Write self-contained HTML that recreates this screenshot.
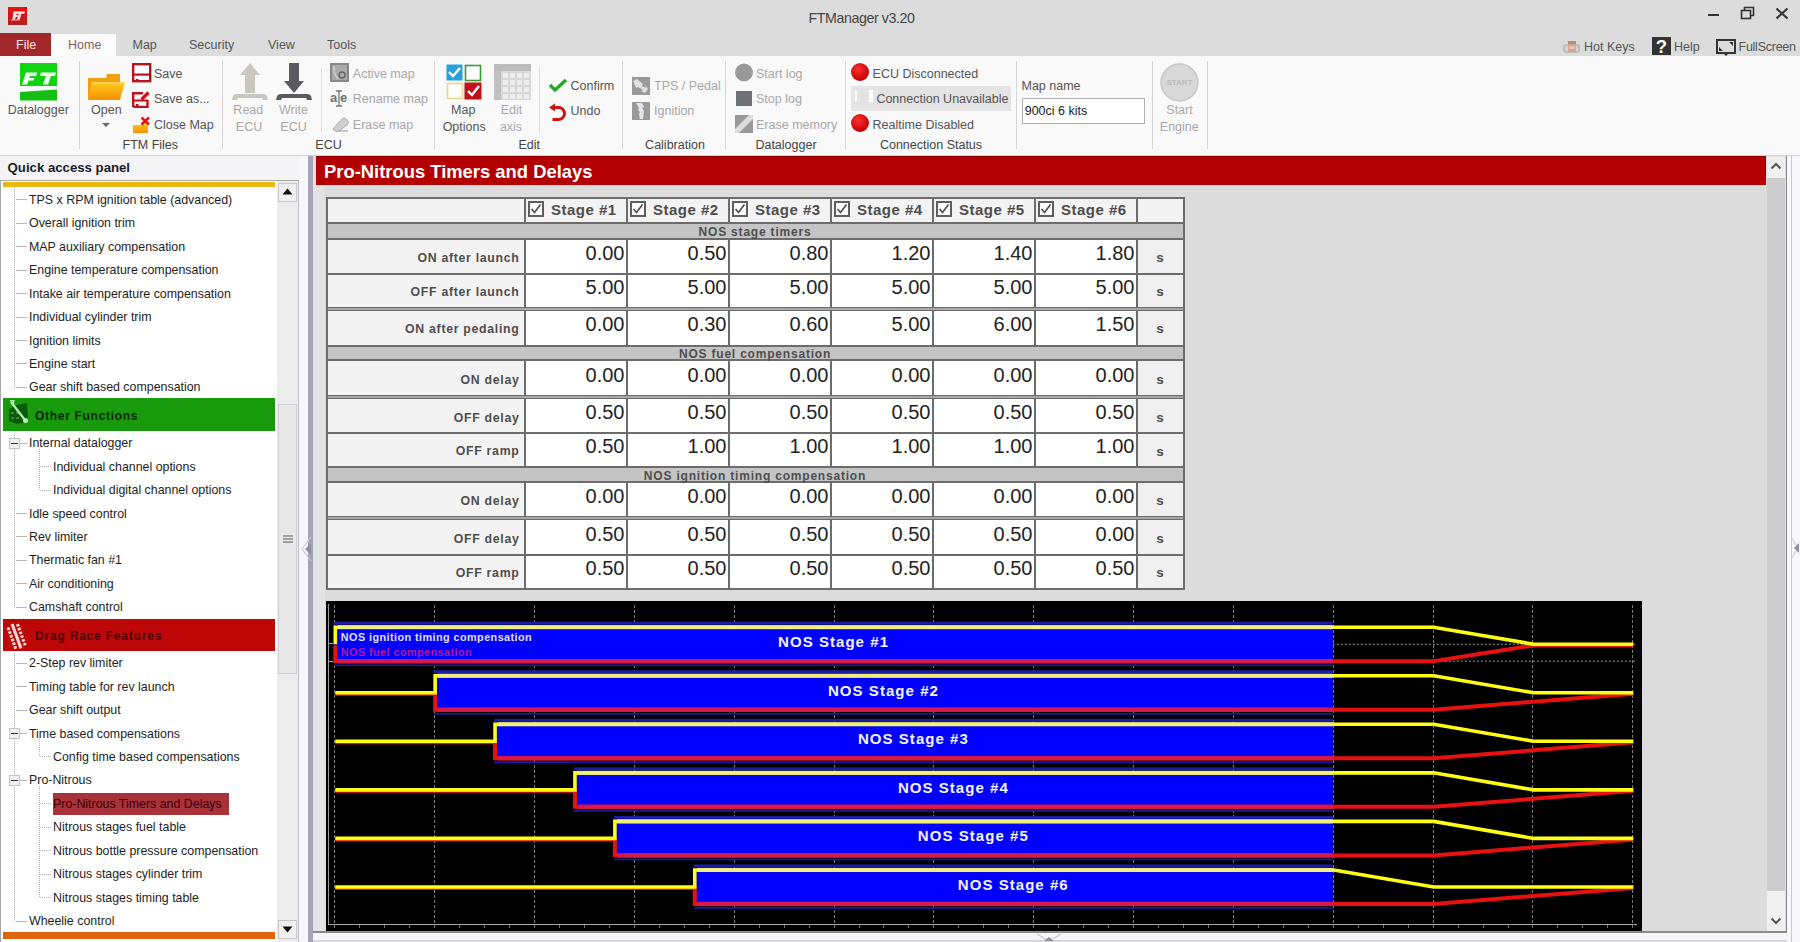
<!DOCTYPE html>
<html><head><meta charset="utf-8"><title>FTManager</title>
<style>
html,body{margin:0;padding:0;width:1800px;height:942px;overflow:hidden;background:#f8f8f8;}
body{position:relative;font-family:"Liberation Sans", sans-serif;}
.t{position:absolute;white-space:nowrap;font-family:"Liberation Sans", sans-serif;}
.r{position:absolute;}
</style></head><body>
<div class="r" style="left:0px;top:0px;width:1800px;height:33px;background:#dcdcdc;"></div>
<svg class="r" style="left:8px;top:7px" width="19" height="18"><defs><linearGradient id="ig" x1="0" y1="0" x2="0" y2="1"><stop offset="0" stop-color="#e81010"/><stop offset="1" stop-color="#b42020"/></linearGradient></defs><rect width="19" height="18" fill="url(#ig)"/><path d="M5.5 4.5 H17 L16.3 6.8 H13.3 L11.8 12.5 H9.2 L10.7 6.8 H8.6 L8.2 8.2 H10.1 L9.6 10 H7.7 L7 12.5 H4.4 Z" fill="#ffe8e8"/><path d="M3 12.6 H12 L11.6 13.6 H2.7 Z" fill="#ffd0d0" opacity=".8"/></svg>
<div class="t" style="left:861.5px;transform:translateX(-50%);top:11.18px;font-size:14.2px;line-height:14.2px;color:#444;letter-spacing:-0.4px;">FTManager v3.20</div>
<div class="r" style="left:1708px;top:14px;width:11px;height:2px;background:#333;"></div>
<svg class="r" style="left:1740px;top:6px" width="16" height="14"><rect x="1.5" y="4.5" width="9" height="8" fill="none" stroke="#333" stroke-width="1.6"/><path d="M4.5 4.5 V1.5 H13.5 V9.5 H10.5" fill="none" stroke="#333" stroke-width="1.6"/></svg>
<svg class="r" style="left:1775px;top:7px" width="14" height="13"><path d="M1.5 1.5 L12.5 11.5 M12.5 1.5 L1.5 11.5" stroke="#333" stroke-width="2.2"/></svg>
<div class="r" style="left:0px;top:33px;width:1800px;height:23px;background:#dcdcdc;"></div>
<div class="r" style="left:0px;top:33px;width:51px;height:23px;background:#a3282c;"></div>
<div class="t" style="left:16px;top:39.42px;font-size:12.5px;line-height:12.5px;color:#f4e8e8;">File</div>
<div class="r" style="left:51px;top:34px;width:65px;height:22px;background:#fbfbfb;"></div>
<div class="t" style="left:68px;top:39.42px;font-size:12.5px;line-height:12.5px;color:#8a5a6a;">Home</div>
<div class="t" style="left:132.5px;top:39.42px;font-size:12.5px;line-height:12.5px;color:#555;">Map</div>
<div class="t" style="left:189px;top:39.42px;font-size:12.5px;line-height:12.5px;color:#555;">Security</div>
<div class="t" style="left:268px;top:39.42px;font-size:12.5px;line-height:12.5px;color:#555;">View</div>
<div class="t" style="left:327px;top:39.42px;font-size:12.5px;line-height:12.5px;color:#555;">Tools</div>
<svg class="r" style="left:1562px;top:40px" width="19" height="14"><rect x="1" y="4" width="17" height="9" rx="3" fill="#bdbdbd"/><rect x="3" y="6" width="13" height="5" rx="1.5" fill="#d8d8d8"/><rect x="6" y="1" width="8" height="11" rx="1" fill="#d4a890"/><rect x="6" y="1" width="8" height="3" fill="#a89080"/><rect x="7.5" y="6" width="5" height="3" fill="#e8c4b0"/></svg>
<div class="t" style="left:1584px;top:41.42px;font-size:12.5px;line-height:12.5px;color:#555;">Hot Keys</div>
<div class="r" style="left:1652px;top:37px;width:19px;height:18px;background:#333;"></div>
<div class="t" style="left:1661.5px;transform:translateX(-50%);top:37.84px;font-size:18.5px;line-height:18.5px;color:#fff;font-weight:bold;">?</div>
<div class="t" style="left:1674px;top:41.42px;font-size:12.5px;line-height:12.5px;color:#555;">Help</div>
<svg class="r" style="left:1716px;top:39px" width="20" height="17"><rect x="1" y="1" width="18" height="13" fill="none" stroke="#333" stroke-width="2"/><path d="M17 3 L13 3 L17 7 Z M3 12 L7 12 L3 8 Z" fill="#333"/><path d="M8 15 L12 15 L10 17 Z" fill="#333"/></svg>
<div class="t" style="left:1738.5px;top:41.42px;font-size:12.5px;line-height:12.5px;color:#555;letter-spacing:-0.25px;">FullScreen</div>
<div class="r" style="left:0px;top:56px;width:1800px;height:99px;background:#f9f9f9;"></div>
<div class="r" style="left:0px;top:155px;width:1800px;height:1px;background:#d4d4d4;"></div>
<div class="r" style="left:79px;top:61px;width:1px;height:88px;background:#d6d6d6;"></div>
<div class="r" style="left:222px;top:61px;width:1px;height:88px;background:#d6d6d6;"></div>
<div class="r" style="left:434px;top:61px;width:1px;height:88px;background:#d6d6d6;"></div>
<div class="r" style="left:622px;top:61px;width:1px;height:88px;background:#d6d6d6;"></div>
<div class="r" style="left:725px;top:61px;width:1px;height:88px;background:#d6d6d6;"></div>
<div class="r" style="left:845px;top:61px;width:1px;height:88px;background:#d6d6d6;"></div>
<div class="r" style="left:1016px;top:61px;width:1px;height:88px;background:#d6d6d6;"></div>
<div class="r" style="left:1152px;top:61px;width:1px;height:88px;background:#d6d6d6;"></div>
<div class="r" style="left:1207px;top:61px;width:1px;height:88px;background:#d6d6d6;"></div>
<div class="r" style="left:321px;top:68px;width:1px;height:64px;background:#e0e0e0;"></div>
<div class="r" style="left:539px;top:68px;width:1px;height:64px;background:#e0e0e0;"></div>
<svg class="r" style="left:20px;top:63px" width="37" height="38"><rect x="0" y="0" width="37" height="23" fill="#10d410"/><path d="M0 29 L37 26.5 L37 37.5 L0 37.5 Z" fill="#12bf12"/><path d="M6 9.5 L17 9.5 L16 13 L10 13 L9.3 15 L14.5 15 L13.7 17.5 L8.5 17.5 L7 21.5 L2 21.5 Z M21 9.5 L36 9.5 L35 13 L31 13 L28 21.5 L23 21.5 L26 13 L20 13 Z" fill="#f4fff4"/></svg>
<div class="t" style="left:7.7px;top:104.42px;font-size:12.5px;line-height:12.5px;color:#555;">Datalogger</div>
<svg class="r" style="left:87px;top:73px" width="39" height="28"><defs><linearGradient id="fg" x1="0" y1="0" x2="0" y2="1"><stop offset="0" stop-color="#ffcc20"/><stop offset="1" stop-color="#f59000"/></linearGradient></defs><path d="M1 5 H19 L20 1 H33 V27 H1 Z" fill="#f0a010"/><path d="M5 9 H38 L33 27 H2 Z" fill="url(#fg)"/><path d="M5 9 H38 L37.5 10.5 H5 L2 27 Z" fill="#ffe080" opacity=".6"/></svg>
<div class="t" style="left:91px;top:104.42px;font-size:12.5px;line-height:12.5px;color:#555;">Open</div>
<svg class="r" style="left:102px;top:123px" width="8" height="5"><path d="M0 0 L8 0 L4 4 Z" fill="#666"/></svg>
<svg class="r" style="left:132px;top:63px" width="20" height="20"><rect x="1.2" y="1.2" width="17" height="17" fill="#fff" stroke="#b8141e" stroke-width="2.4"/><rect x="1" y="10.5" width="18" height="2.2" fill="#b8141e"/><rect x="4" y="16" width="2.5" height="2.5" fill="#b8141e"/></svg>
<div class="t" style="left:154px;top:67.82px;font-size:12.5px;line-height:12.5px;color:#555;">Save</div>
<svg class="r" style="left:132px;top:90px" width="20" height="18"><path d="M11 3.2 H1.2 V17 M15.5 10 V17 H1.2" fill="none" stroke="#b8141e" stroke-width="2.4"/><rect x="1" y="9.5" width="15" height="2" fill="#b8141e"/><rect x="4" y="14" width="2.5" height="2.5" fill="#b8141e"/><path d="M9.5 9.5 L16.5 2.5" stroke="#d01020" stroke-width="3.2"/></svg>
<div class="t" style="left:154px;top:93.42px;font-size:12.5px;line-height:12.5px;color:#555;">Save as...</div>
<svg class="r" style="left:132px;top:116px" width="19" height="18"><path d="M1 9 H8 L10 7.5 H16 V17 H1 Z" fill="url(#fg)"/><path d="M9.5 1.5 L17 8.5 M17 1.5 L9.5 8.5" stroke="#e01010" stroke-width="2.4"/></svg>
<div class="t" style="left:154px;top:118.82px;font-size:12.5px;line-height:12.5px;color:#555;">Close Map</div>
<div class="t" style="left:150.3px;transform:translateX(-50%);top:139.42px;font-size:12.5px;line-height:12.5px;color:#444;">FTM Files</div>
<svg class="r" style="left:231px;top:63px" width="38" height="38"><path d="M19 0 L29 12 L24 12 L24 30 L14 30 L14 12 L9 12 Z" fill="#c8c8c0"/><path d="M1 37 L2 33 Q3 31 6 31 L32 31 Q35 31 36 33 L37 37 L32 37 L31 35 L7 35 L6 37 Z" fill="#c8c8c0"/></svg>
<div class="t" style="left:248.3px;transform:translateX(-50%);top:104.42px;font-size:12.5px;line-height:12.5px;color:#a8a8a8;">Read</div>
<div class="t" style="left:249px;transform:translateX(-50%);top:120.82px;font-size:12.5px;line-height:12.5px;color:#a8a8a8;">ECU</div>
<svg class="r" style="left:275px;top:63px" width="38" height="38"><path d="M14 0 L24 0 L24 18 L29 18 L19 30 L9 18 L14 18 Z" fill="#5a5a60"/><path d="M1 37 L2 33 Q3 31 6 31 L32 31 Q35 31 36 33 L37 37 L32 37 L31 35 L7 35 L6 37 Z" fill="#5a5a60"/></svg>
<div class="t" style="left:293.4px;transform:translateX(-50%);top:104.42px;font-size:12.5px;line-height:12.5px;color:#a8a8a8;">Write</div>
<div class="t" style="left:293.5px;transform:translateX(-50%);top:120.82px;font-size:12.5px;line-height:12.5px;color:#a8a8a8;">ECU</div>
<div class="t" style="left:328.5px;transform:translateX(-50%);top:139.42px;font-size:12.5px;line-height:12.5px;color:#444;">ECU</div>
<svg class="r" style="left:330px;top:63px" width="19" height="19"><rect x="0" y="0" width="19" height="19" fill="#888"/><rect x="2" y="2" width="15" height="15" fill="#aaa"/><circle cx="12" cy="12" r="3" fill="none" stroke="#666" stroke-width="1.4"/><path d="M4 3 Q3 10 8 16" stroke="#ccc" stroke-width="1.5" fill="none"/></svg>
<div class="t" style="left:352.8px;top:67.82px;font-size:12.5px;line-height:12.5px;color:#a8a8a8;">Active map</div>
<svg class="r" style="left:330px;top:89px" width="19" height="19"><text x="0" y="13" font-family="Liberation Sans" font-weight="bold" font-size="13" fill="#707070">a</text><text x="10" y="13" font-family="Liberation Sans" font-weight="bold" font-size="13" fill="#707070">e</text><path d="M9 2 V17 M6 2 H12 M6 17 H12" stroke="#777" stroke-width="1.3"/></svg>
<div class="t" style="left:352.8px;top:93.42px;font-size:12.5px;line-height:12.5px;color:#a8a8a8;">Rename map</div>
<svg class="r" style="left:331px;top:117px" width="18" height="15"><path d="M2 12 L11 2 Q13 0 15 2 L17 4 Q18 6 16 8 L8 14 Q6 15 4 14 Z" fill="#d0d0d0" stroke="#aaa" stroke-width="1"/><path d="M8 14 H17" stroke="#aaa" stroke-width="1.2"/></svg>
<div class="t" style="left:352.8px;top:119.42px;font-size:12.5px;line-height:12.5px;color:#a8a8a8;">Erase map</div>
<svg class="r" style="left:446px;top:64px" width="37" height="37"><rect x="0.5" y="0.5" width="16" height="16" fill="#28a0d8"/><path d="M3 8 L7 12 L14 4" stroke="#fff" stroke-width="2.4" fill="none"/><rect x="19.5" y="1.5" width="15" height="15" fill="#fff" stroke="#3a9a3a" stroke-width="1.6"/><rect x="1.5" y="19.5" width="15" height="15" fill="#fff" stroke="#e8d890" stroke-width="1.6"/><rect x="18.5" y="18.5" width="17" height="17" fill="#c01018"/><path d="M22 27 L26 31 L33 22" stroke="#fff" stroke-width="2.4" fill="none"/></svg>
<div class="t" style="left:463.2px;transform:translateX(-50%);top:104.42px;font-size:12.5px;line-height:12.5px;color:#555;">Map</div>
<div class="t" style="left:464.2px;transform:translateX(-50%);top:120.82px;font-size:12.5px;line-height:12.5px;color:#555;">Options</div>
<svg class="r" style="left:494px;top:64px" width="37" height="36"><rect x="0" y="0" width="37" height="36" fill="#d8d8d8"/><rect x="0" y="0" width="37" height="7" fill="#bbb"/><rect x="0" y="7" width="7" height="29" fill="#c0c0c0"/><rect x="9" y="9" width="5" height="5" fill="#eee"/><rect x="9" y="16" width="5" height="5" fill="#eee"/><rect x="9" y="23" width="5" height="5" fill="#eee"/><rect x="9" y="30" width="5" height="5" fill="#eee"/><rect x="16" y="9" width="5" height="5" fill="#eee"/><rect x="16" y="16" width="5" height="5" fill="#eee"/><rect x="16" y="23" width="5" height="5" fill="#eee"/><rect x="16" y="30" width="5" height="5" fill="#eee"/><rect x="23" y="9" width="5" height="5" fill="#eee"/><rect x="23" y="16" width="5" height="5" fill="#eee"/><rect x="23" y="23" width="5" height="5" fill="#eee"/><rect x="23" y="30" width="5" height="5" fill="#eee"/><rect x="30" y="9" width="5" height="5" fill="#eee"/><rect x="30" y="16" width="5" height="5" fill="#eee"/><rect x="30" y="23" width="5" height="5" fill="#eee"/><rect x="30" y="30" width="5" height="5" fill="#eee"/></svg>
<div class="t" style="left:511.5px;transform:translateX(-50%);top:104.42px;font-size:12.5px;line-height:12.5px;color:#a8a8a8;">Edit</div>
<div class="t" style="left:511px;transform:translateX(-50%);top:120.82px;font-size:12.5px;line-height:12.5px;color:#a8a8a8;">axis</div>
<svg class="r" style="left:548px;top:78px" width="20" height="15"><path d="M2 7 L7 12 L18 2" stroke="#22aa22" stroke-width="3.4" fill="none"/></svg>
<div class="t" style="left:570.5px;top:79.92px;font-size:12.5px;line-height:12.5px;color:#555;">Confirm</div>
<svg class="r" style="left:549px;top:103px" width="18" height="19"><path d="M5 4.5 L9.5 4.5 A6 6 0 0 1 9.5 16.5 L3.5 16.5" fill="none" stroke="#c81414" stroke-width="3"/><path d="M0 4.5 L6 0.5 L6 8.5 Z" fill="#c81414"/></svg>
<div class="t" style="left:570.5px;top:105.42px;font-size:12.5px;line-height:12.5px;color:#555;">Undo</div>
<div class="t" style="left:529.3px;transform:translateX(-50%);top:139.42px;font-size:12.5px;line-height:12.5px;color:#444;">Edit</div>
<svg class="r" style="left:632px;top:77px" width="18" height="18"><rect width="18" height="18" fill="#9a9a9a"/><path d="M1 4 L5 2 L11 7 L10 9 L14 11 L13 8 L16 12 L13 16 L9 14 L11 13 L6 10 L4 11 Z" fill="#e0e0e0"/></svg>
<div class="t" style="left:654px;top:79.92px;font-size:12.5px;line-height:12.5px;color:#a8a8a8;">TPS / Pedal</div>
<svg class="r" style="left:632px;top:102px" width="18" height="18"><rect width="18" height="18" fill="#9a9a9a"/><path d="M4 1 L10 1 L12 5 L10 6 L12 9 L11 17 L8 17 L7 12 L8 10 L6 8 L7 6 Z" fill="#e4e4e4"/></svg>
<div class="t" style="left:654px;top:105.42px;font-size:12.5px;line-height:12.5px;color:#a8a8a8;">Ignition</div>
<div class="t" style="left:675px;transform:translateX(-50%);top:139.42px;font-size:12.5px;line-height:12.5px;color:#444;">Calibration</div>
<svg class="r" style="left:735px;top:63px" width="18" height="19"><circle cx="9" cy="9.5" r="9" fill="#999"/></svg>
<div class="t" style="left:756px;top:67.82px;font-size:12.5px;line-height:12.5px;color:#a8a8a8;">Start log</div>
<div class="r" style="left:736px;top:91px;width:16px;height:15px;background:#707078;"></div>
<div class="t" style="left:756px;top:93.42px;font-size:12.5px;line-height:12.5px;color:#a8a8a8;">Stop log</div>
<svg class="r" style="left:735px;top:115px" width="18" height="18"><rect width="18" height="18" fill="#999"/><path d="M0 14 L14 0 L18 0 L18 4 L4 18 L0 18 Z" fill="#ddd"/></svg>
<div class="t" style="left:756px;top:119.42px;font-size:12.5px;line-height:12.5px;color:#a8a8a8;">Erase memory</div>
<div class="t" style="left:786px;transform:translateX(-50%);top:139.42px;font-size:12.5px;line-height:12.5px;color:#444;">Datalogger</div>
<svg class="r" style="left:850px;top:62px" width="20" height="20"><defs><radialGradient id="rg" cx="40%" cy="35%" r="65%"><stop offset="0" stop-color="#ff3030"/><stop offset="1" stop-color="#c00000"/></radialGradient></defs><circle cx="10" cy="10" r="9" fill="url(#rg)"/></svg>
<div class="t" style="left:872.6px;top:67.82px;font-size:12.5px;line-height:12.5px;color:#555;">ECU Disconnected</div>
<div class="r" style="left:851px;top:86px;width:160px;height:25px;background:#e4e4e4;"></div>
<div class="r" style="left:855px;top:91px;width:2px;height:10px;background:#fff;"></div>
<div class="r" style="left:869px;top:90px;width:4px;height:12px;background:#fff;"></div>
<div class="t" style="left:876.4px;top:93.42px;font-size:12.5px;line-height:12.5px;color:#555;">Connection Unavailable</div>
<svg class="r" style="left:850px;top:113px" width="20" height="20"><circle cx="10" cy="10" r="9" fill="url(#rg)"/></svg>
<div class="t" style="left:872.6px;top:119.42px;font-size:12.5px;line-height:12.5px;color:#555;">Realtime Disabled</div>
<div class="t" style="left:931px;transform:translateX(-50%);top:139.42px;font-size:12.5px;line-height:12.5px;color:#444;">Connection Status</div>
<div class="t" style="left:1021.5px;top:79.92px;font-size:12.5px;line-height:12.5px;color:#555;">Map name</div>
<div class="r" style="left:1022px;top:98px;width:123px;height:26px;background:#fff;box-sizing:border-box;border:1px solid #b0b0b0;"></div>
<div class="t" style="left:1024.7px;top:105.42px;font-size:12.5px;line-height:12.5px;color:#222;">900ci 6 kits</div>
<svg class="r" style="left:1160px;top:63px" width="39" height="39"><circle cx="19.5" cy="19.5" r="18.5" fill="#d8d8d8" stroke="#c8c8c8" stroke-width="1.5"/><text x="19.5" y="22" text-anchor="middle" font-family="Liberation Sans" font-weight="bold" font-size="8" fill="#bbb">START</text></svg>
<div class="t" style="left:1179.5px;transform:translateX(-50%);top:104.42px;font-size:12.5px;line-height:12.5px;color:#a8a8a8;">Start</div>
<div class="t" style="left:1179.3px;transform:translateX(-50%);top:120.82px;font-size:12.5px;line-height:12.5px;color:#a8a8a8;">Engine</div>
<div class="r" style="left:0px;top:156px;width:313px;height:786px;background:#f4f4f6;"></div>
<div class="t" style="left:7.6px;top:161.33px;font-size:13.2px;line-height:13.2px;color:#1a1a28;font-weight:bold;">Quick access panel</div>
<div class="r" style="left:0px;top:180px;width:299px;height:762px;background:#a8a8a8;"></div>
<div class="r" style="left:1px;top:181px;width:297px;height:761px;background:#ffffff;"></div>
<div class="r" style="left:3px;top:182px;width:272px;height:5px;background:#e6b812;"></div>
<div class="r" style="left:3px;top:932px;width:272px;height:7px;background:#e06410;"></div>
<div class="r" style="left:277px;top:181px;width:21px;height:761px;background:#ececec;"></div>
<div class="r" style="left:298px;top:180px;width:1px;height:762px;background:#c0c0c0;"></div>
<div class="r" style="left:278px;top:183px;width:19px;height:19px;background:#f0f0f0;box-sizing:border-box;border:1px solid #c8c8c8;"></div>
<svg class="r" style="left:282px;top:188px" width="11" height="7"><path d="M0.5 6.5 L5.5 0.5 L10.5 6.5 Z" fill="#111"/></svg>
<div class="r" style="left:278px;top:404px;width:19px;height:270px;background:#e8e8e8;box-sizing:border-box;border:1px solid #d0d0d0;"></div>
<div class="r" style="left:283px;top:535px;width:10px;height:1.5px;background:#a0a0a0;"></div>
<div class="r" style="left:283px;top:538px;width:10px;height:1.5px;background:#a0a0a0;"></div>
<div class="r" style="left:283px;top:541px;width:10px;height:1.5px;background:#a0a0a0;"></div>
<div class="r" style="left:278px;top:920px;width:19px;height:19px;background:#f0f0f0;box-sizing:border-box;border:1px solid #c8c8c8;"></div>
<svg class="r" style="left:282px;top:926px" width="11" height="7"><path d="M0.5 0.5 L5.5 6.5 L10.5 0.5 Z" fill="#111"/></svg>
<div class="r" style="left:299px;top:156px;width:10px;height:786px;background:#f6f6fb;"></div>
<div class="r" style="left:308px;top:156px;width:5px;height:786px;background:#a4a4b6;"></div>
<svg class="r" style="left:300px;top:536px" width="12" height="26"><path d="M11 1 L2 13 L11 25" fill="none" stroke="#c8c8d8" stroke-width="1.2"/><path d="M11 7 L5 13 L11 19 Z" fill="#9090a4"/></svg>
<div class="r" style="left:14px;top:187px;width:1px;height:201px;background:transparent;background:repeating-linear-gradient(180deg,#b4b4b4 0 1px,transparent 1px 2px);"></div>
<div class="r" style="left:16px;top:199px;width:11px;height:1px;background:#b8b8b8;"></div>
<div class="t" style="left:29px;top:193.80px;font-size:12.4px;line-height:12.4px;color:#1e1e1e;">TPS x RPM ignition table (advanced)</div>
<div class="r" style="left:16px;top:223px;width:11px;height:1px;background:#b8b8b8;"></div>
<div class="t" style="left:29px;top:217.25px;font-size:12.4px;line-height:12.4px;color:#1e1e1e;">Overall ignition trim</div>
<div class="r" style="left:16px;top:246px;width:11px;height:1px;background:#b8b8b8;"></div>
<div class="t" style="left:29px;top:240.70px;font-size:12.4px;line-height:12.4px;color:#1e1e1e;">MAP auxiliary compensation</div>
<div class="r" style="left:16px;top:270px;width:11px;height:1px;background:#b8b8b8;"></div>
<div class="t" style="left:29px;top:264.15px;font-size:12.4px;line-height:12.4px;color:#1e1e1e;">Engine temperature compensation</div>
<div class="r" style="left:16px;top:293px;width:11px;height:1px;background:#b8b8b8;"></div>
<div class="t" style="left:29px;top:287.60px;font-size:12.4px;line-height:12.4px;color:#1e1e1e;">Intake air temperature compensation</div>
<div class="r" style="left:16px;top:317px;width:11px;height:1px;background:#b8b8b8;"></div>
<div class="t" style="left:29px;top:311.05px;font-size:12.4px;line-height:12.4px;color:#1e1e1e;">Individual cylinder trim</div>
<div class="r" style="left:16px;top:340px;width:11px;height:1px;background:#b8b8b8;"></div>
<div class="t" style="left:29px;top:334.50px;font-size:12.4px;line-height:12.4px;color:#1e1e1e;">Ignition limits</div>
<div class="r" style="left:16px;top:363px;width:11px;height:1px;background:#b8b8b8;"></div>
<div class="t" style="left:29px;top:357.95px;font-size:12.4px;line-height:12.4px;color:#1e1e1e;">Engine start</div>
<div class="r" style="left:16px;top:387px;width:11px;height:1px;background:#b8b8b8;"></div>
<div class="t" style="left:29px;top:381.40px;font-size:12.4px;line-height:12.4px;color:#1e1e1e;">Gear shift based compensation</div>
<div class="r" style="left:3px;top:398px;width:272px;height:33px;background:#189a0c;"></div>
<svg class="r" style="left:8px;top:400px" width="22" height="25"><path d="M1 9 L9 5 L19 3 L20 22 L9 24 L1 21 Z" fill="#0a5a0a"/><g fill="#3a8a3a"><rect x="3" y="12" width="3" height="2"/><rect x="8" y="12" width="3" height="2"/><rect x="3" y="17" width="3" height="2"/><rect x="8" y="17" width="3" height="2"/></g><path d="M3 2 L17 20" stroke="#b8f0b8" stroke-width="2.2"/><circle cx="17.5" cy="20.5" r="2.5" fill="#b8f0b8"/><path d="M2 1 L6 0 L5 4" stroke="#b8f0b8" stroke-width="1.5" fill="none"/></svg>
<div class="t" style="left:35px;top:409.54px;font-size:12px;line-height:12px;color:#062a06;font-weight:bold;letter-spacing:0.7px;">Other Functions</div>
<div class="r" style="left:14px;top:431px;width:1px;height:177px;background:transparent;background:repeating-linear-gradient(180deg,#b4b4b4 0 1px,transparent 1px 2px);"></div>
<div class="r" style="left:39px;top:449px;width:1px;height:42px;background:transparent;background:repeating-linear-gradient(180deg,#b4b4b4 0 1px,transparent 1px 2px);"></div>
<div class="r" style="left:16px;top:443px;width:11px;height:1px;background:#b8b8b8;"></div>
<div class="r" style="left:9px;top:438px;width:11px;height:11px;background:#f2f2f2;box-sizing:border-box;border:1px solid #c4c4c4;"></div>
<div class="r" style="left:11px;top:443px;width:7px;height:1px;background:#333;"></div>
<div class="t" style="left:29px;top:437.20px;font-size:12.4px;line-height:12.4px;color:#1e1e1e;">Internal datalogger</div>
<div class="r" style="left:40px;top:466px;width:12px;height:1px;background:transparent;background:repeating-linear-gradient(90deg,#b4b4b4 0 1px,transparent 1px 2px);"></div>
<div class="t" style="left:53px;top:460.65px;font-size:12.4px;line-height:12.4px;color:#1e1e1e;">Individual channel options</div>
<div class="r" style="left:40px;top:490px;width:12px;height:1px;background:transparent;background:repeating-linear-gradient(90deg,#b4b4b4 0 1px,transparent 1px 2px);"></div>
<div class="t" style="left:53px;top:484.10px;font-size:12.4px;line-height:12.4px;color:#1e1e1e;">Individual digital channel options</div>
<div class="r" style="left:16px;top:513px;width:11px;height:1px;background:#b8b8b8;"></div>
<div class="t" style="left:29px;top:507.55px;font-size:12.4px;line-height:12.4px;color:#1e1e1e;">Idle speed control</div>
<div class="r" style="left:16px;top:536px;width:11px;height:1px;background:#b8b8b8;"></div>
<div class="t" style="left:29px;top:531.00px;font-size:12.4px;line-height:12.4px;color:#1e1e1e;">Rev limiter</div>
<div class="r" style="left:16px;top:560px;width:11px;height:1px;background:#b8b8b8;"></div>
<div class="t" style="left:29px;top:554.45px;font-size:12.4px;line-height:12.4px;color:#1e1e1e;">Thermatic fan #1</div>
<div class="r" style="left:16px;top:583px;width:11px;height:1px;background:#b8b8b8;"></div>
<div class="t" style="left:29px;top:577.90px;font-size:12.4px;line-height:12.4px;color:#1e1e1e;">Air conditioning</div>
<div class="r" style="left:16px;top:607px;width:11px;height:1px;background:#b8b8b8;"></div>
<div class="t" style="left:29px;top:601.35px;font-size:12.4px;line-height:12.4px;color:#1e1e1e;">Camshaft control</div>
<div class="r" style="left:3px;top:619px;width:272px;height:32px;background:#be0808;"></div>
<svg class="r" style="left:6px;top:622px" width="22" height="28"><g transform="rotate(-20 11 14)"><rect x="9" y="1" width="3" height="26" fill="#ffd8d8"/><rect x="4" y="3" width="3" height="2.5" fill="#ffe0e0"/><rect x="14" y="3" width="3" height="2.5" fill="#ffe0e0"/><rect x="4" y="7" width="3" height="2.5" fill="#ffe0e0"/><rect x="14" y="7" width="3" height="2.5" fill="#ffe0e0"/><rect x="4" y="11" width="3" height="2.5" fill="#ffe0e0"/><rect x="14" y="11" width="3" height="2.5" fill="#ffe0e0"/><rect x="4" y="15" width="3" height="2.5" fill="#ffe0e0"/><rect x="14" y="15" width="3" height="2.5" fill="#ffe0e0"/><rect x="4" y="19" width="3" height="2.5" fill="#ffe0e0"/><rect x="14" y="19" width="3" height="2.5" fill="#ffe0e0"/><rect x="4" y="23" width="3" height="2.5" fill="#ffe0e0"/><rect x="14" y="23" width="3" height="2.5" fill="#ffe0e0"/></g></svg>
<div class="t" style="left:35px;top:629.54px;font-size:12px;line-height:12px;color:#4a0404;font-weight:bold;letter-spacing:0.8px;">Drag Race Features</div>
<div class="r" style="left:14px;top:651px;width:1px;height:271px;background:transparent;background:repeating-linear-gradient(180deg,#b4b4b4 0 1px,transparent 1px 2px);"></div>
<div class="r" style="left:39px;top:739px;width:1px;height:18px;background:transparent;background:repeating-linear-gradient(180deg,#b4b4b4 0 1px,transparent 1px 2px);"></div>
<div class="r" style="left:39px;top:786px;width:1px;height:112px;background:transparent;background:repeating-linear-gradient(180deg,#b4b4b4 0 1px,transparent 1px 2px);"></div>
<div class="r" style="left:16px;top:663px;width:11px;height:1px;background:#b8b8b8;"></div>
<div class="t" style="left:29px;top:657.20px;font-size:12.4px;line-height:12.4px;color:#1e1e1e;">2-Step rev limiter</div>
<div class="r" style="left:16px;top:686px;width:11px;height:1px;background:#b8b8b8;"></div>
<div class="t" style="left:29px;top:680.65px;font-size:12.4px;line-height:12.4px;color:#1e1e1e;">Timing table for rev launch</div>
<div class="r" style="left:16px;top:710px;width:11px;height:1px;background:#b8b8b8;"></div>
<div class="t" style="left:29px;top:704.10px;font-size:12.4px;line-height:12.4px;color:#1e1e1e;">Gear shift output</div>
<div class="r" style="left:16px;top:733px;width:11px;height:1px;background:#b8b8b8;"></div>
<div class="r" style="left:9px;top:728px;width:11px;height:11px;background:#f2f2f2;box-sizing:border-box;border:1px solid #c4c4c4;"></div>
<div class="r" style="left:11px;top:733px;width:7px;height:1px;background:#333;"></div>
<div class="t" style="left:29px;top:727.55px;font-size:12.4px;line-height:12.4px;color:#1e1e1e;">Time based compensations</div>
<div class="r" style="left:40px;top:756px;width:12px;height:1px;background:transparent;background:repeating-linear-gradient(90deg,#b4b4b4 0 1px,transparent 1px 2px);"></div>
<div class="t" style="left:53px;top:751.00px;font-size:12.4px;line-height:12.4px;color:#1e1e1e;">Config time based compensations</div>
<div class="r" style="left:16px;top:780px;width:11px;height:1px;background:#b8b8b8;"></div>
<div class="r" style="left:9px;top:775px;width:11px;height:11px;background:#f2f2f2;box-sizing:border-box;border:1px solid #c4c4c4;"></div>
<div class="r" style="left:11px;top:780px;width:7px;height:1px;background:#333;"></div>
<div class="t" style="left:29px;top:774.45px;font-size:12.4px;line-height:12.4px;color:#1e1e1e;">Pro-Nitrous</div>
<div class="r" style="left:40px;top:803px;width:12px;height:1px;background:transparent;background:repeating-linear-gradient(90deg,#b4b4b4 0 1px,transparent 1px 2px);"></div>
<div class="r" style="left:53px;top:793px;width:176px;height:22px;background:#a8323a;"></div>
<div class="t" style="left:53px;top:797.90px;font-size:12.4px;line-height:12.4px;color:#3c0008;">Pro-Nitrous Timers and Delays</div>
<div class="r" style="left:40px;top:827px;width:12px;height:1px;background:transparent;background:repeating-linear-gradient(90deg,#b4b4b4 0 1px,transparent 1px 2px);"></div>
<div class="t" style="left:53px;top:821.35px;font-size:12.4px;line-height:12.4px;color:#1e1e1e;">Nitrous stages fuel table</div>
<div class="r" style="left:40px;top:850px;width:12px;height:1px;background:transparent;background:repeating-linear-gradient(90deg,#b4b4b4 0 1px,transparent 1px 2px);"></div>
<div class="t" style="left:53px;top:844.80px;font-size:12.4px;line-height:12.4px;color:#1e1e1e;">Nitrous bottle pressure compensation</div>
<div class="r" style="left:40px;top:874px;width:12px;height:1px;background:transparent;background:repeating-linear-gradient(90deg,#b4b4b4 0 1px,transparent 1px 2px);"></div>
<div class="t" style="left:53px;top:868.25px;font-size:12.4px;line-height:12.4px;color:#1e1e1e;">Nitrous stages cylinder trim</div>
<div class="r" style="left:40px;top:897px;width:12px;height:1px;background:transparent;background:repeating-linear-gradient(90deg,#b4b4b4 0 1px,transparent 1px 2px);"></div>
<div class="t" style="left:53px;top:891.70px;font-size:12.4px;line-height:12.4px;color:#1e1e1e;">Nitrous stages timing table</div>
<div class="r" style="left:16px;top:921px;width:11px;height:1px;background:#b8b8b8;"></div>
<div class="t" style="left:29px;top:915.15px;font-size:12.4px;line-height:12.4px;color:#1e1e1e;">Wheelie control</div>
<div class="r" style="left:313px;top:156px;width:1473px;height:776px;background:#dcdcdc;"></div>
<div class="r" style="left:313px;top:156px;width:12px;height:776px;background:#e2e2e2;"></div>
<div class="r" style="left:316px;top:156px;width:1450px;height:29px;background:#b40000;"></div>
<div class="r" style="left:316px;top:156px;width:1450px;height:1px;background:#8a0000;"></div>
<div class="t" style="left:324px;top:163.02px;font-size:18.4px;line-height:18.4px;color:#fff;font-weight:bold;">Pro-Nitrous Timers and Delays</div>
<div class="r" style="left:1766px;top:156px;width:20px;height:776px;background:#dedede;"></div>
<div class="r" style="left:1767px;top:157px;width:18px;height:21px;background:#f0f0f0;"></div>
<svg class="r" style="left:1770px;top:162px" width="12" height="8"><path d="M1.5 6.5 L6 2 L10.5 6.5" fill="none" stroke="#555" stroke-width="2"/></svg>
<div class="r" style="left:1767px;top:178px;width:18px;height:713px;background:#cdcdcd;"></div>
<div class="r" style="left:1767px;top:891px;width:18px;height:40px;background:#f0f0f0;"></div>
<svg class="r" style="left:1770px;top:917px" width="12" height="8"><path d="M1.5 1.5 L6 6 L10.5 1.5" fill="none" stroke="#555" stroke-width="2"/></svg>
<div class="r" style="left:1786px;top:156px;width:1px;height:777px;background:#888;"></div>
<div class="r" style="left:313px;top:931px;width:1474px;height:2px;background:#8a8a8a;"></div>
<div class="r" style="left:313px;top:933px;width:1487px;height:9px;background:#f6f6fa;"></div>
<div class="r" style="left:313px;top:940px;width:1487px;height:2px;background:#d8d8dc;"></div>
<div class="r" style="left:1787px;top:156px;width:13px;height:786px;background:#f8f8fc;"></div>
<div class="r" style="left:1791px;top:156px;width:1px;height:786px;background:#c8c8d0;"></div>
<svg class="r" style="left:1790px;top:536px" width="10" height="24"><path d="M1 1 L8 12 L1 23" fill="none" stroke="#d0d0dc" stroke-width="1.2"/><path d="M9 7 L4 12 L9 17 Z" fill="#9090a4"/></svg>
<svg class="r" style="left:1036px;top:933px" width="26" height="9"><path d="M1 1 L13 8 L25 1" fill="none" stroke="#c8c8d4" stroke-width="1.2"/><path d="M8 8 L13 4 L18 8 Z" fill="#9090a4"/></svg>
<div class="r" style="left:326px;top:197px;width:859px;height:393px;background:#6c6c6c;"></div>
<div class="r" style="left:328px;top:199px;width:196px;height:23px;background:#f3f3f3;"></div>
<div class="r" style="left:526px;top:199px;width:100px;height:23px;background:#f3f3f3;"></div>
<div class="r" style="left:628px;top:199px;width:100px;height:23px;background:#f3f3f3;"></div>
<div class="r" style="left:730px;top:199px;width:100px;height:23px;background:#f3f3f3;"></div>
<div class="r" style="left:832px;top:199px;width:100px;height:23px;background:#f3f3f3;"></div>
<div class="r" style="left:934px;top:199px;width:100px;height:23px;background:#f3f3f3;"></div>
<div class="r" style="left:1036px;top:199px;width:100px;height:23px;background:#f3f3f3;"></div>
<div class="r" style="left:1138px;top:199px;width:45px;height:23px;background:#f3f3f3;"></div>
<svg class="r" style="left:528px;top:201px" width="16" height="16"><rect x="1" y="1" width="14" height="14" fill="#fff" stroke="#5e5e5e" stroke-width="2"/><path d="M3.5 8 L6.5 11.5 L12.5 3.5" fill="none" stroke="#4a4a4a" stroke-width="1.6"/></svg>
<div class="t" style="left:551px;top:202.30px;font-size:15px;line-height:15px;color:#4e4e4e;font-weight:bold;letter-spacing:0.5px;">Stage #1</div>
<svg class="r" style="left:630px;top:201px" width="16" height="16"><rect x="1" y="1" width="14" height="14" fill="#fff" stroke="#5e5e5e" stroke-width="2"/><path d="M3.5 8 L6.5 11.5 L12.5 3.5" fill="none" stroke="#4a4a4a" stroke-width="1.6"/></svg>
<div class="t" style="left:653px;top:202.30px;font-size:15px;line-height:15px;color:#4e4e4e;font-weight:bold;letter-spacing:0.5px;">Stage #2</div>
<svg class="r" style="left:732px;top:201px" width="16" height="16"><rect x="1" y="1" width="14" height="14" fill="#fff" stroke="#5e5e5e" stroke-width="2"/><path d="M3.5 8 L6.5 11.5 L12.5 3.5" fill="none" stroke="#4a4a4a" stroke-width="1.6"/></svg>
<div class="t" style="left:755px;top:202.30px;font-size:15px;line-height:15px;color:#4e4e4e;font-weight:bold;letter-spacing:0.5px;">Stage #3</div>
<svg class="r" style="left:834px;top:201px" width="16" height="16"><rect x="1" y="1" width="14" height="14" fill="#fff" stroke="#5e5e5e" stroke-width="2"/><path d="M3.5 8 L6.5 11.5 L12.5 3.5" fill="none" stroke="#4a4a4a" stroke-width="1.6"/></svg>
<div class="t" style="left:857px;top:202.30px;font-size:15px;line-height:15px;color:#4e4e4e;font-weight:bold;letter-spacing:0.5px;">Stage #4</div>
<svg class="r" style="left:936px;top:201px" width="16" height="16"><rect x="1" y="1" width="14" height="14" fill="#fff" stroke="#5e5e5e" stroke-width="2"/><path d="M3.5 8 L6.5 11.5 L12.5 3.5" fill="none" stroke="#4a4a4a" stroke-width="1.6"/></svg>
<div class="t" style="left:959px;top:202.30px;font-size:15px;line-height:15px;color:#4e4e4e;font-weight:bold;letter-spacing:0.5px;">Stage #5</div>
<svg class="r" style="left:1038px;top:201px" width="16" height="16"><rect x="1" y="1" width="14" height="14" fill="#fff" stroke="#5e5e5e" stroke-width="2"/><path d="M3.5 8 L6.5 11.5 L12.5 3.5" fill="none" stroke="#4a4a4a" stroke-width="1.6"/></svg>
<div class="t" style="left:1061px;top:202.30px;font-size:15px;line-height:15px;color:#4e4e4e;font-weight:bold;letter-spacing:0.5px;">Stage #6</div>
<div class="r" style="left:328px;top:224px;width:855px;height:14px;background:#c4c4c4;"></div>
<div class="t" style="left:755px;transform:translateX(-50%);top:226.44px;font-size:12px;line-height:12px;color:#4e4e4e;font-weight:bold;letter-spacing:0.8px;">NOS stage timers</div>
<div class="r" style="left:328px;top:347px;width:855px;height:12px;background:#c4c4c4;"></div>
<div class="t" style="left:755px;transform:translateX(-50%);top:348.14px;font-size:12px;line-height:12px;color:#4e4e4e;font-weight:bold;letter-spacing:0.8px;">NOS fuel compensation</div>
<div class="r" style="left:328px;top:468px;width:855px;height:13px;background:#c4c4c4;"></div>
<div class="t" style="left:755px;transform:translateX(-50%);top:470.14px;font-size:12px;line-height:12px;color:#4e4e4e;font-weight:bold;letter-spacing:0.8px;">NOS ignition timing compensation</div>
<div class="r" style="left:328px;top:240px;width:196px;height:33px;background:#f3f3f3;"></div>
<div class="r" style="left:526px;top:240px;width:100px;height:33px;background:#ffffff;"></div>
<div class="r" style="left:628px;top:240px;width:100px;height:33px;background:#ffffff;"></div>
<div class="r" style="left:730px;top:240px;width:100px;height:33px;background:#ffffff;"></div>
<div class="r" style="left:832px;top:240px;width:100px;height:33px;background:#ffffff;"></div>
<div class="r" style="left:934px;top:240px;width:100px;height:33px;background:#ffffff;"></div>
<div class="r" style="left:1036px;top:240px;width:100px;height:33px;background:#ffffff;"></div>
<div class="r" style="left:1138px;top:240px;width:45px;height:33px;background:#f0f0f0;"></div>
<div class="t" style="right:1280.5px;top:251.79px;font-size:12.3px;line-height:12.3px;color:#4e4e4e;font-weight:bold;letter-spacing:0.7px;">ON after launch</div>
<div class="t" style="right:1175.5px;top:243.17px;font-size:20px;line-height:20px;color:#222;">0.00</div>
<div class="t" style="right:1073.5px;top:243.17px;font-size:20px;line-height:20px;color:#222;">0.50</div>
<div class="t" style="right:971.5px;top:243.17px;font-size:20px;line-height:20px;color:#222;">0.80</div>
<div class="t" style="right:869.5px;top:243.17px;font-size:20px;line-height:20px;color:#222;">1.20</div>
<div class="t" style="right:767.5px;top:243.17px;font-size:20px;line-height:20px;color:#222;">1.40</div>
<div class="t" style="right:665.5px;top:243.17px;font-size:20px;line-height:20px;color:#222;">1.80</div>
<div class="t" style="left:1160px;transform:translateX(-50%);top:250.87px;font-size:13.5px;line-height:13.5px;color:#4e4e4e;font-weight:bold;">s</div>
<div class="r" style="left:328px;top:275px;width:196px;height:32px;background:#f3f3f3;"></div>
<div class="r" style="left:526px;top:275px;width:100px;height:32px;background:#ffffff;"></div>
<div class="r" style="left:628px;top:275px;width:100px;height:32px;background:#ffffff;"></div>
<div class="r" style="left:730px;top:275px;width:100px;height:32px;background:#ffffff;"></div>
<div class="r" style="left:832px;top:275px;width:100px;height:32px;background:#ffffff;"></div>
<div class="r" style="left:934px;top:275px;width:100px;height:32px;background:#ffffff;"></div>
<div class="r" style="left:1036px;top:275px;width:100px;height:32px;background:#ffffff;"></div>
<div class="r" style="left:1138px;top:275px;width:45px;height:32px;background:#f0f0f0;"></div>
<div class="t" style="right:1280.5px;top:285.79px;font-size:12.3px;line-height:12.3px;color:#4e4e4e;font-weight:bold;letter-spacing:0.7px;">OFF after launch</div>
<div class="t" style="right:1175.5px;top:276.57px;font-size:20px;line-height:20px;color:#222;">5.00</div>
<div class="t" style="right:1073.5px;top:276.57px;font-size:20px;line-height:20px;color:#222;">5.00</div>
<div class="t" style="right:971.5px;top:276.57px;font-size:20px;line-height:20px;color:#222;">5.00</div>
<div class="t" style="right:869.5px;top:276.57px;font-size:20px;line-height:20px;color:#222;">5.00</div>
<div class="t" style="right:767.5px;top:276.57px;font-size:20px;line-height:20px;color:#222;">5.00</div>
<div class="t" style="right:665.5px;top:276.57px;font-size:20px;line-height:20px;color:#222;">5.00</div>
<div class="t" style="left:1160px;transform:translateX(-50%);top:284.87px;font-size:13.5px;line-height:13.5px;color:#4e4e4e;font-weight:bold;">s</div>
<div class="r" style="left:328px;top:311px;width:196px;height:34px;background:#f3f3f3;"></div>
<div class="r" style="left:526px;top:311px;width:100px;height:34px;background:#ffffff;"></div>
<div class="r" style="left:628px;top:311px;width:100px;height:34px;background:#ffffff;"></div>
<div class="r" style="left:730px;top:311px;width:100px;height:34px;background:#ffffff;"></div>
<div class="r" style="left:832px;top:311px;width:100px;height:34px;background:#ffffff;"></div>
<div class="r" style="left:934px;top:311px;width:100px;height:34px;background:#ffffff;"></div>
<div class="r" style="left:1036px;top:311px;width:100px;height:34px;background:#ffffff;"></div>
<div class="r" style="left:1138px;top:311px;width:45px;height:34px;background:#f0f0f0;"></div>
<div class="t" style="right:1280.5px;top:322.69px;font-size:12.3px;line-height:12.3px;color:#4e4e4e;font-weight:bold;letter-spacing:0.7px;">ON after pedaling</div>
<div class="t" style="right:1175.5px;top:314.07px;font-size:20px;line-height:20px;color:#222;">0.00</div>
<div class="t" style="right:1073.5px;top:314.07px;font-size:20px;line-height:20px;color:#222;">0.30</div>
<div class="t" style="right:971.5px;top:314.07px;font-size:20px;line-height:20px;color:#222;">0.60</div>
<div class="t" style="right:869.5px;top:314.07px;font-size:20px;line-height:20px;color:#222;">5.00</div>
<div class="t" style="right:767.5px;top:314.07px;font-size:20px;line-height:20px;color:#222;">6.00</div>
<div class="t" style="right:665.5px;top:314.07px;font-size:20px;line-height:20px;color:#222;">1.50</div>
<div class="t" style="left:1160px;transform:translateX(-50%);top:321.77px;font-size:13.5px;line-height:13.5px;color:#4e4e4e;font-weight:bold;">s</div>
<div class="r" style="left:328px;top:361px;width:196px;height:34px;background:#f3f3f3;"></div>
<div class="r" style="left:526px;top:361px;width:100px;height:34px;background:#ffffff;"></div>
<div class="r" style="left:628px;top:361px;width:100px;height:34px;background:#ffffff;"></div>
<div class="r" style="left:730px;top:361px;width:100px;height:34px;background:#ffffff;"></div>
<div class="r" style="left:832px;top:361px;width:100px;height:34px;background:#ffffff;"></div>
<div class="r" style="left:934px;top:361px;width:100px;height:34px;background:#ffffff;"></div>
<div class="r" style="left:1036px;top:361px;width:100px;height:34px;background:#ffffff;"></div>
<div class="r" style="left:1138px;top:361px;width:45px;height:34px;background:#f0f0f0;"></div>
<div class="t" style="right:1280.5px;top:373.69px;font-size:12.3px;line-height:12.3px;color:#4e4e4e;font-weight:bold;letter-spacing:0.7px;">ON delay</div>
<div class="t" style="right:1175.5px;top:364.67px;font-size:20px;line-height:20px;color:#222;">0.00</div>
<div class="t" style="right:1073.5px;top:364.67px;font-size:20px;line-height:20px;color:#222;">0.00</div>
<div class="t" style="right:971.5px;top:364.67px;font-size:20px;line-height:20px;color:#222;">0.00</div>
<div class="t" style="right:869.5px;top:364.67px;font-size:20px;line-height:20px;color:#222;">0.00</div>
<div class="t" style="right:767.5px;top:364.67px;font-size:20px;line-height:20px;color:#222;">0.00</div>
<div class="t" style="right:665.5px;top:364.67px;font-size:20px;line-height:20px;color:#222;">0.00</div>
<div class="t" style="left:1160px;transform:translateX(-50%);top:372.77px;font-size:13.5px;line-height:13.5px;color:#4e4e4e;font-weight:bold;">s</div>
<div class="r" style="left:328px;top:399px;width:196px;height:33px;background:#f3f3f3;"></div>
<div class="r" style="left:526px;top:399px;width:100px;height:33px;background:#ffffff;"></div>
<div class="r" style="left:628px;top:399px;width:100px;height:33px;background:#ffffff;"></div>
<div class="r" style="left:730px;top:399px;width:100px;height:33px;background:#ffffff;"></div>
<div class="r" style="left:832px;top:399px;width:100px;height:33px;background:#ffffff;"></div>
<div class="r" style="left:934px;top:399px;width:100px;height:33px;background:#ffffff;"></div>
<div class="r" style="left:1036px;top:399px;width:100px;height:33px;background:#ffffff;"></div>
<div class="r" style="left:1138px;top:399px;width:45px;height:33px;background:#f0f0f0;"></div>
<div class="t" style="right:1280.5px;top:411.59px;font-size:12.3px;line-height:12.3px;color:#4e4e4e;font-weight:bold;letter-spacing:0.7px;">OFF delay</div>
<div class="t" style="right:1175.5px;top:402.07px;font-size:20px;line-height:20px;color:#222;">0.50</div>
<div class="t" style="right:1073.5px;top:402.07px;font-size:20px;line-height:20px;color:#222;">0.50</div>
<div class="t" style="right:971.5px;top:402.07px;font-size:20px;line-height:20px;color:#222;">0.50</div>
<div class="t" style="right:869.5px;top:402.07px;font-size:20px;line-height:20px;color:#222;">0.50</div>
<div class="t" style="right:767.5px;top:402.07px;font-size:20px;line-height:20px;color:#222;">0.50</div>
<div class="t" style="right:665.5px;top:402.07px;font-size:20px;line-height:20px;color:#222;">0.50</div>
<div class="t" style="left:1160px;transform:translateX(-50%);top:410.67px;font-size:13.5px;line-height:13.5px;color:#4e4e4e;font-weight:bold;">s</div>
<div class="r" style="left:328px;top:434px;width:196px;height:32px;background:#f3f3f3;"></div>
<div class="r" style="left:526px;top:434px;width:100px;height:32px;background:#ffffff;"></div>
<div class="r" style="left:628px;top:434px;width:100px;height:32px;background:#ffffff;"></div>
<div class="r" style="left:730px;top:434px;width:100px;height:32px;background:#ffffff;"></div>
<div class="r" style="left:832px;top:434px;width:100px;height:32px;background:#ffffff;"></div>
<div class="r" style="left:934px;top:434px;width:100px;height:32px;background:#ffffff;"></div>
<div class="r" style="left:1036px;top:434px;width:100px;height:32px;background:#ffffff;"></div>
<div class="r" style="left:1138px;top:434px;width:45px;height:32px;background:#f0f0f0;"></div>
<div class="t" style="right:1280.5px;top:445.49px;font-size:12.3px;line-height:12.3px;color:#4e4e4e;font-weight:bold;letter-spacing:0.7px;">OFF ramp</div>
<div class="t" style="right:1175.5px;top:435.87px;font-size:20px;line-height:20px;color:#222;">0.50</div>
<div class="t" style="right:1073.5px;top:435.87px;font-size:20px;line-height:20px;color:#222;">1.00</div>
<div class="t" style="right:971.5px;top:435.87px;font-size:20px;line-height:20px;color:#222;">1.00</div>
<div class="t" style="right:869.5px;top:435.87px;font-size:20px;line-height:20px;color:#222;">1.00</div>
<div class="t" style="right:767.5px;top:435.87px;font-size:20px;line-height:20px;color:#222;">1.00</div>
<div class="t" style="right:665.5px;top:435.87px;font-size:20px;line-height:20px;color:#222;">1.00</div>
<div class="t" style="left:1160px;transform:translateX(-50%);top:444.57px;font-size:13.5px;line-height:13.5px;color:#4e4e4e;font-weight:bold;">s</div>
<div class="r" style="left:328px;top:483px;width:196px;height:33px;background:#f3f3f3;"></div>
<div class="r" style="left:526px;top:483px;width:100px;height:33px;background:#ffffff;"></div>
<div class="r" style="left:628px;top:483px;width:100px;height:33px;background:#ffffff;"></div>
<div class="r" style="left:730px;top:483px;width:100px;height:33px;background:#ffffff;"></div>
<div class="r" style="left:832px;top:483px;width:100px;height:33px;background:#ffffff;"></div>
<div class="r" style="left:934px;top:483px;width:100px;height:33px;background:#ffffff;"></div>
<div class="r" style="left:1036px;top:483px;width:100px;height:33px;background:#ffffff;"></div>
<div class="r" style="left:1138px;top:483px;width:45px;height:33px;background:#f0f0f0;"></div>
<div class="t" style="right:1280.5px;top:495.39px;font-size:12.3px;line-height:12.3px;color:#4e4e4e;font-weight:bold;letter-spacing:0.7px;">ON delay</div>
<div class="t" style="right:1175.5px;top:486.47px;font-size:20px;line-height:20px;color:#222;">0.00</div>
<div class="t" style="right:1073.5px;top:486.47px;font-size:20px;line-height:20px;color:#222;">0.00</div>
<div class="t" style="right:971.5px;top:486.47px;font-size:20px;line-height:20px;color:#222;">0.00</div>
<div class="t" style="right:869.5px;top:486.47px;font-size:20px;line-height:20px;color:#222;">0.00</div>
<div class="t" style="right:767.5px;top:486.47px;font-size:20px;line-height:20px;color:#222;">0.00</div>
<div class="t" style="right:665.5px;top:486.47px;font-size:20px;line-height:20px;color:#222;">0.00</div>
<div class="t" style="left:1160px;transform:translateX(-50%);top:494.47px;font-size:13.5px;line-height:13.5px;color:#4e4e4e;font-weight:bold;">s</div>
<div class="r" style="left:328px;top:520px;width:196px;height:34px;background:#f3f3f3;"></div>
<div class="r" style="left:526px;top:520px;width:100px;height:34px;background:#ffffff;"></div>
<div class="r" style="left:628px;top:520px;width:100px;height:34px;background:#ffffff;"></div>
<div class="r" style="left:730px;top:520px;width:100px;height:34px;background:#ffffff;"></div>
<div class="r" style="left:832px;top:520px;width:100px;height:34px;background:#ffffff;"></div>
<div class="r" style="left:934px;top:520px;width:100px;height:34px;background:#ffffff;"></div>
<div class="r" style="left:1036px;top:520px;width:100px;height:34px;background:#ffffff;"></div>
<div class="r" style="left:1138px;top:520px;width:45px;height:34px;background:#f0f0f0;"></div>
<div class="t" style="right:1280.5px;top:533.29px;font-size:12.3px;line-height:12.3px;color:#4e4e4e;font-weight:bold;letter-spacing:0.7px;">OFF delay</div>
<div class="t" style="right:1175.5px;top:523.77px;font-size:20px;line-height:20px;color:#222;">0.50</div>
<div class="t" style="right:1073.5px;top:523.77px;font-size:20px;line-height:20px;color:#222;">0.50</div>
<div class="t" style="right:971.5px;top:523.77px;font-size:20px;line-height:20px;color:#222;">0.50</div>
<div class="t" style="right:869.5px;top:523.77px;font-size:20px;line-height:20px;color:#222;">0.50</div>
<div class="t" style="right:767.5px;top:523.77px;font-size:20px;line-height:20px;color:#222;">0.50</div>
<div class="t" style="right:665.5px;top:523.77px;font-size:20px;line-height:20px;color:#222;">0.00</div>
<div class="t" style="left:1160px;transform:translateX(-50%);top:532.37px;font-size:13.5px;line-height:13.5px;color:#4e4e4e;font-weight:bold;">s</div>
<div class="r" style="left:328px;top:556px;width:196px;height:32px;background:#f3f3f3;"></div>
<div class="r" style="left:526px;top:556px;width:100px;height:32px;background:#ffffff;"></div>
<div class="r" style="left:628px;top:556px;width:100px;height:32px;background:#ffffff;"></div>
<div class="r" style="left:730px;top:556px;width:100px;height:32px;background:#ffffff;"></div>
<div class="r" style="left:832px;top:556px;width:100px;height:32px;background:#ffffff;"></div>
<div class="r" style="left:934px;top:556px;width:100px;height:32px;background:#ffffff;"></div>
<div class="r" style="left:1036px;top:556px;width:100px;height:32px;background:#ffffff;"></div>
<div class="r" style="left:1138px;top:556px;width:45px;height:32px;background:#f0f0f0;"></div>
<div class="t" style="right:1280.5px;top:567.19px;font-size:12.3px;line-height:12.3px;color:#4e4e4e;font-weight:bold;letter-spacing:0.7px;">OFF ramp</div>
<div class="t" style="right:1175.5px;top:557.67px;font-size:20px;line-height:20px;color:#222;">0.50</div>
<div class="t" style="right:1073.5px;top:557.67px;font-size:20px;line-height:20px;color:#222;">0.50</div>
<div class="t" style="right:971.5px;top:557.67px;font-size:20px;line-height:20px;color:#222;">0.50</div>
<div class="t" style="right:869.5px;top:557.67px;font-size:20px;line-height:20px;color:#222;">0.50</div>
<div class="t" style="right:767.5px;top:557.67px;font-size:20px;line-height:20px;color:#222;">0.50</div>
<div class="t" style="right:665.5px;top:557.67px;font-size:20px;line-height:20px;color:#222;">0.50</div>
<div class="t" style="left:1160px;transform:translateX(-50%);top:566.27px;font-size:13.5px;line-height:13.5px;color:#4e4e4e;font-weight:bold;">s</div>
<div class="r" style="left:328px;top:308px;width:855px;height:2px;background:#a8a8a8;"></div>
<div class="r" style="left:328px;top:396px;width:855px;height:2px;background:#a8a8a8;"></div>
<div class="r" style="left:328px;top:517px;width:855px;height:2px;background:#a8a8a8;"></div>
<svg class="r" style="left:326px;top:601px" width="1316" height="330"><rect x="0" y="0" width="1316" height="330" fill="#000"/><line x1="8.5" y1="4" x2="8.5" y2="329" stroke="#7c7c7c" stroke-width="1" stroke-dasharray="3 2"/><line x1="108.5" y1="4" x2="108.5" y2="329" stroke="#7c7c7c" stroke-width="1" stroke-dasharray="3 2"/><line x1="208.5" y1="4" x2="208.5" y2="329" stroke="#7c7c7c" stroke-width="1" stroke-dasharray="3 2"/><line x1="308.5" y1="4" x2="308.5" y2="329" stroke="#7c7c7c" stroke-width="1" stroke-dasharray="3 2"/><line x1="408.5" y1="4" x2="408.5" y2="329" stroke="#7c7c7c" stroke-width="1" stroke-dasharray="3 2"/><line x1="508.5" y1="4" x2="508.5" y2="329" stroke="#7c7c7c" stroke-width="1" stroke-dasharray="3 2"/><line x1="607.5" y1="4" x2="607.5" y2="329" stroke="#7c7c7c" stroke-width="1" stroke-dasharray="3 2"/><line x1="707.5" y1="4" x2="707.5" y2="329" stroke="#7c7c7c" stroke-width="1" stroke-dasharray="3 2"/><line x1="807.5" y1="4" x2="807.5" y2="329" stroke="#7c7c7c" stroke-width="1" stroke-dasharray="3 2"/><line x1="907.5" y1="4" x2="907.5" y2="329" stroke="#7c7c7c" stroke-width="1" stroke-dasharray="3 2"/><line x1="1007.5" y1="4" x2="1007.5" y2="329" stroke="#7c7c7c" stroke-width="1" stroke-dasharray="3 2"/><line x1="1107.5" y1="4" x2="1107.5" y2="329" stroke="#7c7c7c" stroke-width="1" stroke-dasharray="3 2"/><line x1="1206.5" y1="4" x2="1206.5" y2="329" stroke="#7c7c7c" stroke-width="1" stroke-dasharray="3 2"/><line x1="1306.5" y1="4" x2="1306.5" y2="329" stroke="#7c7c7c" stroke-width="1" stroke-dasharray="3 2"/><line x1="2.5" y1="3" x2="2.5" y2="324" stroke="#9a9a9a" stroke-width="1"/><line x1="2" y1="323.5" x2="1311" y2="323.5" stroke="#a8a8a8" stroke-width="1"/><line x1="8.5" y1="324" x2="8.5" y2="327" stroke="#707070" stroke-width="1"/><line x1="33.5" y1="324" x2="33.5" y2="327" stroke="#707070" stroke-width="1"/><line x1="58.5" y1="324" x2="58.5" y2="327" stroke="#707070" stroke-width="1"/><line x1="83.5" y1="324" x2="83.5" y2="327" stroke="#707070" stroke-width="1"/><line x1="108.5" y1="324" x2="108.5" y2="327" stroke="#707070" stroke-width="1"/><line x1="133.5" y1="324" x2="133.5" y2="327" stroke="#707070" stroke-width="1"/><line x1="158.5" y1="324" x2="158.5" y2="327" stroke="#707070" stroke-width="1"/><line x1="183.5" y1="324" x2="183.5" y2="327" stroke="#707070" stroke-width="1"/><line x1="208.5" y1="324" x2="208.5" y2="327" stroke="#707070" stroke-width="1"/><line x1="233.5" y1="324" x2="233.5" y2="327" stroke="#707070" stroke-width="1"/><line x1="258.5" y1="324" x2="258.5" y2="327" stroke="#707070" stroke-width="1"/><line x1="283.5" y1="324" x2="283.5" y2="327" stroke="#707070" stroke-width="1"/><line x1="308.5" y1="324" x2="308.5" y2="327" stroke="#707070" stroke-width="1"/><line x1="333.5" y1="324" x2="333.5" y2="327" stroke="#707070" stroke-width="1"/><line x1="358.5" y1="324" x2="358.5" y2="327" stroke="#707070" stroke-width="1"/><line x1="383.5" y1="324" x2="383.5" y2="327" stroke="#707070" stroke-width="1"/><line x1="408.5" y1="324" x2="408.5" y2="327" stroke="#707070" stroke-width="1"/><line x1="433.5" y1="324" x2="433.5" y2="327" stroke="#707070" stroke-width="1"/><line x1="458.5" y1="324" x2="458.5" y2="327" stroke="#707070" stroke-width="1"/><line x1="483.5" y1="324" x2="483.5" y2="327" stroke="#707070" stroke-width="1"/><line x1="508.5" y1="324" x2="508.5" y2="327" stroke="#707070" stroke-width="1"/><line x1="533.5" y1="324" x2="533.5" y2="327" stroke="#707070" stroke-width="1"/><line x1="557.5" y1="324" x2="557.5" y2="327" stroke="#707070" stroke-width="1"/><line x1="582.5" y1="324" x2="582.5" y2="327" stroke="#707070" stroke-width="1"/><line x1="607.5" y1="324" x2="607.5" y2="327" stroke="#707070" stroke-width="1"/><line x1="632.5" y1="324" x2="632.5" y2="327" stroke="#707070" stroke-width="1"/><line x1="657.5" y1="324" x2="657.5" y2="327" stroke="#707070" stroke-width="1"/><line x1="682.5" y1="324" x2="682.5" y2="327" stroke="#707070" stroke-width="1"/><line x1="707.5" y1="324" x2="707.5" y2="327" stroke="#707070" stroke-width="1"/><line x1="732.5" y1="324" x2="732.5" y2="327" stroke="#707070" stroke-width="1"/><line x1="757.5" y1="324" x2="757.5" y2="327" stroke="#707070" stroke-width="1"/><line x1="782.5" y1="324" x2="782.5" y2="327" stroke="#707070" stroke-width="1"/><line x1="807.5" y1="324" x2="807.5" y2="327" stroke="#707070" stroke-width="1"/><line x1="832.5" y1="324" x2="832.5" y2="327" stroke="#707070" stroke-width="1"/><line x1="857.5" y1="324" x2="857.5" y2="327" stroke="#707070" stroke-width="1"/><line x1="882.5" y1="324" x2="882.5" y2="327" stroke="#707070" stroke-width="1"/><line x1="907.5" y1="324" x2="907.5" y2="327" stroke="#707070" stroke-width="1"/><line x1="932.5" y1="324" x2="932.5" y2="327" stroke="#707070" stroke-width="1"/><line x1="957.5" y1="324" x2="957.5" y2="327" stroke="#707070" stroke-width="1"/><line x1="982.5" y1="324" x2="982.5" y2="327" stroke="#707070" stroke-width="1"/><line x1="1007.5" y1="324" x2="1007.5" y2="327" stroke="#707070" stroke-width="1"/><line x1="1032.5" y1="324" x2="1032.5" y2="327" stroke="#707070" stroke-width="1"/><line x1="1057.5" y1="324" x2="1057.5" y2="327" stroke="#707070" stroke-width="1"/><line x1="1082.5" y1="324" x2="1082.5" y2="327" stroke="#707070" stroke-width="1"/><line x1="1107.5" y1="324" x2="1107.5" y2="327" stroke="#707070" stroke-width="1"/><line x1="1132.5" y1="324" x2="1132.5" y2="327" stroke="#707070" stroke-width="1"/><line x1="1157.5" y1="324" x2="1157.5" y2="327" stroke="#707070" stroke-width="1"/><line x1="1182.5" y1="324" x2="1182.5" y2="327" stroke="#707070" stroke-width="1"/><line x1="1206.5" y1="324" x2="1206.5" y2="327" stroke="#707070" stroke-width="1"/><line x1="1231.5" y1="324" x2="1231.5" y2="327" stroke="#707070" stroke-width="1"/><line x1="1256.5" y1="324" x2="1256.5" y2="327" stroke="#707070" stroke-width="1"/><line x1="1281.5" y1="324" x2="1281.5" y2="327" stroke="#707070" stroke-width="1"/><line x1="1306.5" y1="324" x2="1306.5" y2="327" stroke="#707070" stroke-width="1"/><line x1="2" y1="42.5" x2="7" y2="42.5" stroke="#9a9a9a" stroke-width="1.2"/><line x1="2" y1="60.5" x2="7" y2="60.5" stroke="#9a9a9a" stroke-width="1.2"/><rect x="8.300000000000011" y="20.700000000000045" width="998.5" height="3" fill="#1c1ca8"/><rect x="8.300000000000011" y="63.5" width="998.5" height="1.6" fill="#1c1ca8"/><rect x="8.300000000000011" y="27.700000000000045" width="998.5" height="31" fill="#0000ff"/><line x1="1006.8" y1="43.200000000000045" x2="1311" y2="43.200000000000045" stroke="#a0a0a0" stroke-width="1" stroke-dasharray="2 2"/><line x1="1006.8" y1="60.200000000000045" x2="1311" y2="60.200000000000045" stroke="#a0a0a0" stroke-width="1" stroke-dasharray="2 2"/><polyline points="9.30,44.20 9.30,44.20 9.30,60.20 1107.65,60.20 1207.50,44.20 1307.35,44.20" fill="none" stroke="#e81010" stroke-width="4" stroke-linejoin="miter"/><polyline points="9.30,43.20 9.30,43.20 9.30,26.20 1107.65,26.20 1207.50,43.20 1307.35,43.20" fill="none" stroke="#ffff14" stroke-width="3.6" stroke-linejoin="miter"/><rect x="11.800000000000011" y="24.200000000000045" width="995.0" height="4" fill="#f0f080"/><rect x="11.800000000000011" y="58.0" width="995.0" height="4.4" fill="#d81848"/><text x="507.54999999999995" y="46.0" text-anchor="middle" font-family="Liberation Sans" font-weight="bold" font-size="15" letter-spacing="1.05" fill="#f4f4ff">NOS Stage #1</text><rect x="108.14999999999998" y="69.25" width="898.65" height="3" fill="#1c1ca8"/><rect x="108.14999999999998" y="112.04999999999995" width="898.65" height="1.6" fill="#1c1ca8"/><rect x="108.14999999999998" y="76.25" width="898.65" height="31" fill="#0000ff"/><polyline points="9.30,92.75 109.15,92.75 109.15,108.75 1107.65,108.75 1307.35,92.75 1307.35,92.75" fill="none" stroke="#e81010" stroke-width="4" stroke-linejoin="miter"/><polyline points="9.30,91.75 109.15,91.75 109.15,74.75 1107.65,74.75 1207.50,91.75 1307.35,91.75" fill="none" stroke="#ffff14" stroke-width="3.6" stroke-linejoin="miter"/><rect x="111.64999999999998" y="72.75" width="895.15" height="4" fill="#f0f080"/><rect x="111.64999999999998" y="106.54999999999995" width="895.15" height="4.4" fill="#d81848"/><text x="557.4749999999999" y="94.54999999999995" text-anchor="middle" font-family="Liberation Sans" font-weight="bold" font-size="15" letter-spacing="1.05" fill="#f4f4ff">NOS Stage #2</text><rect x="168.06" y="117.80000000000007" width="838.74" height="3" fill="#1c1ca8"/><rect x="168.06" y="160.60000000000002" width="838.74" height="1.6" fill="#1c1ca8"/><rect x="168.06" y="124.80000000000007" width="838.74" height="31" fill="#0000ff"/><polyline points="9.30,141.30 169.06,141.30 169.06,157.30 1107.65,157.30 1307.35,141.30 1307.35,141.30" fill="none" stroke="#e81010" stroke-width="4" stroke-linejoin="miter"/><polyline points="9.30,140.30 169.06,140.30 169.06,123.30 1107.65,123.30 1207.50,140.30 1307.35,140.30" fill="none" stroke="#ffff14" stroke-width="3.6" stroke-linejoin="miter"/><rect x="171.56" y="121.30000000000007" width="835.24" height="4" fill="#f0f080"/><rect x="171.56" y="155.10000000000002" width="835.24" height="4.4" fill="#d81848"/><text x="587.43" y="143.10000000000002" text-anchor="middle" font-family="Liberation Sans" font-weight="bold" font-size="15" letter-spacing="1.05" fill="#f4f4ff">NOS Stage #3</text><rect x="247.94000000000005" y="166.35000000000002" width="758.8599999999999" height="3" fill="#1c1ca8"/><rect x="247.94000000000005" y="209.14999999999998" width="758.8599999999999" height="1.6" fill="#1c1ca8"/><rect x="247.94000000000005" y="173.35000000000002" width="758.8599999999999" height="31" fill="#0000ff"/><polyline points="9.30,189.85 248.94,189.85 248.94,205.85 1107.65,205.85 1307.35,189.85 1307.35,189.85" fill="none" stroke="#e81010" stroke-width="4" stroke-linejoin="miter"/><polyline points="9.30,188.85 248.94,188.85 248.94,171.85 1107.65,171.85 1207.50,188.85 1307.35,188.85" fill="none" stroke="#ffff14" stroke-width="3.6" stroke-linejoin="miter"/><rect x="251.44000000000005" y="169.85000000000002" width="755.3599999999999" height="4" fill="#f0f080"/><rect x="251.44000000000005" y="203.64999999999998" width="755.3599999999999" height="4.4" fill="#d81848"/><text x="627.37" y="191.64999999999998" text-anchor="middle" font-family="Liberation Sans" font-weight="bold" font-size="15" letter-spacing="1.05" fill="#f4f4ff">NOS Stage #4</text><rect x="287.88" y="214.9000000000001" width="718.92" height="3" fill="#1c1ca8"/><rect x="287.88" y="257.70000000000005" width="718.92" height="1.6" fill="#1c1ca8"/><rect x="287.88" y="221.9000000000001" width="718.92" height="31" fill="#0000ff"/><polyline points="9.30,238.40 288.88,238.40 288.88,254.40 1107.65,254.40 1307.35,238.40 1307.35,238.40" fill="none" stroke="#e81010" stroke-width="4" stroke-linejoin="miter"/><polyline points="9.30,237.40 288.88,237.40 288.88,220.40 1107.65,220.40 1207.50,237.40 1307.35,237.40" fill="none" stroke="#ffff14" stroke-width="3.6" stroke-linejoin="miter"/><rect x="291.38" y="218.4000000000001" width="715.42" height="4" fill="#f0f080"/><rect x="291.38" y="252.20000000000005" width="715.42" height="4.4" fill="#d81848"/><text x="647.3399999999999" y="240.20000000000005" text-anchor="middle" font-family="Liberation Sans" font-weight="bold" font-size="15" letter-spacing="1.05" fill="#f4f4ff">NOS Stage #5</text><rect x="367.76" y="263.45000000000005" width="639.04" height="3" fill="#1c1ca8"/><rect x="367.76" y="306.25" width="639.04" height="1.6" fill="#1c1ca8"/><rect x="367.76" y="270.45000000000005" width="639.04" height="31" fill="#0000ff"/><polyline points="9.30,286.95 368.76,286.95 368.76,302.95 1107.65,302.95 1307.35,286.95 1307.35,286.95" fill="none" stroke="#e81010" stroke-width="4" stroke-linejoin="miter"/><polyline points="9.30,285.95 368.76,285.95 368.76,268.95 1007.80,268.95 1107.65,285.95 1307.35,285.95" fill="none" stroke="#ffff14" stroke-width="3.6" stroke-linejoin="miter"/><rect x="371.26" y="266.95000000000005" width="635.54" height="4" fill="#f0f080"/><rect x="371.26" y="300.75" width="635.54" height="4.4" fill="#d81848"/><text x="687.28" y="288.75" text-anchor="middle" font-family="Liberation Sans" font-weight="bold" font-size="15" letter-spacing="1.05" fill="#f4f4ff">NOS Stage #6</text><text x="14.800000000000011" y="40" font-family="Liberation Sans" font-weight="bold" font-size="10.8" letter-spacing="0.45" fill="#e0e0f4">NOS ignition timing compensation</text><text x="14.800000000000011" y="54.799999999999955" font-family="Liberation Sans" font-weight="bold" font-size="10.8" letter-spacing="0.45" fill="#b0189a">NOS fuel compensation</text></svg>
</body></html>
